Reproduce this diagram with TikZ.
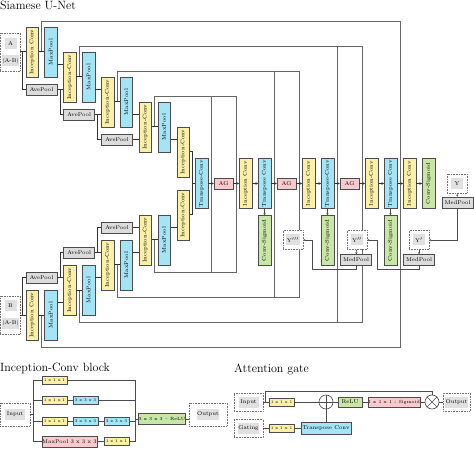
\documentclass[tikz,border=0pt]{standalone}
\usetikzlibrary{arrows.meta}
\pgfdeclarelayer{bg}
\pgfsetlayers{bg,main}
\definecolor{icyel}{HTML}{FCF0A8}
\definecolor{mpcyan}{HTML}{A3E4F6}
\definecolor{csgreen}{HTML}{C8E6A6}
\definecolor{agpink}{HTML}{F8CACD}
\definecolor{poolgray}{HTML}{DCDCDC}
\newcommand{\vtxt}[1]{\rotatebox{90}{#1}}
\begin{document}
\begin{tikzpicture}[x=1pt, y=-1pt,
        box/.style={draw=black!70, line width=0.5pt, inner sep=0pt, font=\fontsize{5.5}{6}\selectfont},
        icbox/.style={box, fill=icyel, minimum width=12.5pt, minimum height=50pt},
        mpbox/.style={box, fill=mpcyan, minimum width=12.5pt, minimum height=50pt},
        csbox/.style={box, fill=csgreen, minimum width=12.5pt, minimum height=50pt},
        poolbox/.style={box, fill=poolgray, minimum width=31pt, minimum height=11pt},
        agbox/.style={box, fill=agpink, minimum width=19pt, minimum height=11pt},
        sbox/.style={box, minimum width=25pt, minimum height=8pt, font=\fontsize{4}{5}\selectfont},
        inbox/.style={draw=black!55, densely dotted, line width=0.6pt, fill=white, inner sep=0pt},
        tag/.style={fill=black!12, inner sep=0.5pt, minimum width=12pt, minimum height=11pt, font=\fontsize{5.5}{6}\selectfont},
        title/.style={anchor=base west, inner sep=0pt, font=\fontsize{12}{14}\selectfont},
        gate/.style={circle, draw=black!70, line width=0.6pt, fill=white, minimum size=14pt, inner sep=0pt},
        skipline/.style={draw=black!60, line width=0.7pt},
        conn/.style={draw=black!80, line width=1pt},
        flow/.style={conn, -{Stealth[length=2.5pt, width=2.5pt]}},
        pline/.style={draw=black!70, line width=0.6pt}
    ]
    \useasboundingbox (0,0) rectangle (474,449);

    % Titles
    \node[title] (ttlnet) at (0,9.5) {Siamese U-Net};
    \node[title] (ttlinc) at (0,371) {Inception-Conv block};
    \node[title] (ttlag) at (234,372) {Attention gate};

    % Branch A (encoder)
    \node[inbox, minimum width=20pt, minimum height=38pt] (inA) at (10,52) {};
    \node[tag] (tagA) at (10.5,43.5) {A};
    \node[tag] (tagAB) at (10.5,61) {$|$A-B$|$};
    \node[icbox] (icA1) at (32,52) {\vtxt{Inception Conv}};
    \node[mpbox] (mpA1) at (50.75,52) {\vtxt{MaxPool}};
    \node[poolbox] (apA1) at (41.4,89.5) {AvePool};
    \node[icbox] (icA2) at (69.75,77) {\vtxt{Inception-Conv}};
    \node[mpbox] (mpA2) at (88.5,77) {\vtxt{MaxPool}};
    \node[poolbox] (apA2) at (79.1,114.5) {AvePool};
    \node[icbox] (icA3) at (107.5,102) {\vtxt{Inception-Conv}};
    \node[mpbox] (mpA3) at (126.25,102) {\vtxt{MaxPool}};
    \node[poolbox] (apA3) at (116.9,139.5) {AvePool};
    \node[icbox] (icA4) at (145.25,127) {\vtxt{Inception-Conv}};
    \node[mpbox] (mpA4) at (164,127) {\vtxt{MaxPool}};
    \node[icbox] (icA5) at (183,152) {\vtxt{Inception-Conv}};

    % Branch B (encoder)
    \node[inbox, minimum width=20pt, minimum height=38pt] (inB) at (10,315) {};
    \node[tag] (tagB) at (10.5,305.5) {B};
    \node[tag] (tagBA) at (10.5,323.5) {$|$A-B$|$};
    \node[icbox] (icB1) at (32,315) {\vtxt{Inception Conv}};
    \node[mpbox] (mpB1) at (50.75,315) {\vtxt{MaxPool}};
    \node[poolbox] (apB1) at (41.4,277.5) {AvePool};
    \node[icbox] (icB2) at (69.75,290) {\vtxt{Inception-Conv}};
    \node[mpbox] (mpB2) at (88.5,290) {\vtxt{MaxPool}};
    \node[poolbox] (apB2) at (79.1,252.5) {AvePool};
    \node[icbox] (icB3) at (107.5,265) {\vtxt{Inception-Conv}};
    \node[mpbox] (mpB3) at (126.25,265) {\vtxt{MaxPool}};
    \node[poolbox] (apB3) at (116.9,227.5) {AvePool};
    \node[icbox] (icB4) at (145.25,240) {\vtxt{Inception-Conv}};
    \node[mpbox] (mpB4) at (164,240) {\vtxt{MaxPool}};
    \node[icbox] (icB5) at (183,215) {\vtxt{Inception-Conv}};

    % Decoder
    \node[mpbox] (tc1) at (201.5,183.5) {\vtxt{Transpose-Conv}};
    \node[agbox] (ag1) at (223.5,183.5) {AG};
    \node[icbox] (icd1) at (245.5,183.5) {\vtxt{Inception Conv}};
    \node[mpbox] (tc2) at (264.5,183.5) {\vtxt{Transpose Conv}};
    \node[agbox] (ag2) at (286.5,183.5) {AG};
    \node[icbox] (icd2) at (308.5,183.5) {\vtxt{Inception Conv}};
    \node[mpbox] (tc3) at (327.5,183.5) {\vtxt{Transpose-Conv}};
    \node[agbox] (ag3) at (349.5,183.5) {AG};
    \node[icbox] (icd3) at (371.5,183.5) {\vtxt{Inception-Conv}};
    \node[mpbox] (tc4) at (390.5,183.5) {\vtxt{Transpose Conv}};
    \node[icbox] (icd4) at (409.5,183.5) {\vtxt{Inception Conv}};
    \node[csbox] (csF) at (428.5,183.5) {\vtxt{Conv-Sigmoid}};
    \node[csbox] (cs2) at (264.5,240.5) {\vtxt{Conv-Sigmoid}};
    \node[csbox] (cs3) at (327.5,240.5) {\vtxt{Conv-Sigmoid}};
    \node[csbox] (cs4) at (390.5,240.5) {\vtxt{Conv-Sigmoid}};

    % Concatenation points
    \coordinate (ca4) at (211,183.5);
    \coordinate (cb4) at (236,183.5);
    \coordinate (ca3) at (274,183.5);
    \coordinate (cb3) at (299,183.5);
    \coordinate (ca2) at (337,183.5);
    \coordinate (cb2) at (362,183.5);
    \coordinate (cb1) at (400,183.5);

    % Labels and median pooling
    \node[inbox, minimum width=20pt, minimum height=19pt] (yF) at (457,183.5) {};
    \node[tag] (tagY) at (457,183.5) {Y};
    \node[poolbox] (mdF) at (457.5,202.5) {MedPool};
    \node[inbox, minimum width=20pt, minimum height=19pt] (y1) at (419,240) {};
    \node[tag] (tagY1) at (419,240) {Y$'$};
    \node[poolbox] (md1) at (419,260) {MedPool};
    \node[inbox, minimum width=20pt, minimum height=19pt] (y2) at (357,240) {};
    \node[tag] (tagY2) at (357,240) {Y$''$};
    \node[poolbox] (md2) at (356,260) {MedPool};
    \node[inbox, minimum width=20pt, minimum height=19pt] (y3) at (293,240) {};
    \node[tag] (tagY3) at (293,240) {Y$'''$};

    \begin{pgfonlayer}{bg}
    % Skip connections
    \draw[skipline] ([xshift=3pt]icA1.east) |- (cb1 |- 0,21) -- (cb1);
    \draw[skipline] ([xshift=3pt]icA2.east) |- (cb2 |- 0,46) -- (cb2);
    \draw[skipline] (ca2 |- 0,46) -- (ca2);
    \draw[skipline] ([xshift=3pt]icA3.east) |- (cb3 |- 0,71) -- (cb3);
    \draw[skipline] (ca3 |- 0,71) -- (ca3);
    \draw[skipline] ([xshift=3pt]icA4.east) |- (cb4 |- 0,96) -- (cb4);
    \draw[skipline] (ca4 |- 0,96) -- (ca4);
    \draw[skipline] ([xshift=3pt]icB1.east) |- (cb1 |- 0,347) -- (cb1);
    \draw[skipline] ([xshift=3pt]icB2.east) |- (cb2 |- 0,322) -- (cb2);
    \draw[skipline] (ca2 |- 0,322) -- (ca2);
    \draw[skipline] ([xshift=3pt]icB3.east) |- (cb3 |- 0,297) -- (cb3);
    \draw[skipline] (ca3 |- 0,297) -- (ca3);
    \draw[skipline] ([xshift=3pt]icB4.east) |- (cb4 |- 0,272) -- (cb4);
    \draw[skipline] (ca4 |- 0,272) -- (ca4);
    \end{pgfonlayer}

    % Encoder links
    \draw[conn] (inA.east) -- (icA1.west);
    \draw[conn] ([xshift=2.5pt]inA.east) |- (apA1.west);
    \draw[conn] (icA1) -- (mpA1);
    \draw[conn] (mpA1.east |- 0,64.5) -- (icA2.west |- 0,64.5);
    \draw[conn] (apA1.east) -- (apA1.east -| icA2.west);
    \draw[conn] ([xshift=3pt]apA1.east) |- (apA2.west);
    \draw[conn] (icA2) -- (mpA2);
    \draw[conn] (mpA2.east |- 0,89.5) -- (icA3.west |- 0,89.5);
    \draw[conn] (apA2.east) -- (apA2.east -| icA3.west);
    \draw[conn] ([xshift=3pt]apA2.east) |- (apA3.west);
    \draw[conn] (icA3) -- (mpA3);
    \draw[conn] (mpA3.east |- 0,114.5) -- (icA4.west |- 0,114.5);
    \draw[conn] (apA3.east) -- (apA3.east -| icA4.west);
    \draw[conn] (icA4) -- (mpA4);
    \draw[conn] (mpA4.east |- 0,139.5) -- (icA5.west |- 0,139.5);

    \draw[conn] (inB.east) -- (icB1.west);
    \draw[conn] ([xshift=2.5pt]inB.east) |- (apB1.west);
    \draw[conn] (icB1) -- (mpB1);
    \draw[conn] (mpB1.east |- 0,302.5) -- (icB2.west |- 0,302.5);
    \draw[conn] (apB1.east) -- (apB1.east -| icB2.west);
    \draw[conn] ([xshift=3pt]apB1.east) |- (apB2.west);
    \draw[conn] (icB2) -- (mpB2);
    \draw[conn] (mpB2.east |- 0,277.5) -- (icB3.west |- 0,277.5);
    \draw[conn] (apB2.east) -- (apB2.east -| icB3.west);
    \draw[conn] ([xshift=3pt]apB2.east) |- (apB3.west);
    \draw[conn] (icB3) -- (mpB3);
    \draw[conn] (mpB3.east |- 0,252.5) -- (icB4.west |- 0,252.5);
    \draw[conn] (apB3.east) -- (apB3.east -| icB4.west);
    \draw[conn] (icB4) -- (mpB4);
    \draw[conn] (mpB4.east |- 0,227.5) -- (icB5.west |- 0,227.5);

    % Decoder links
    \draw[conn] (icA5.east) -- ++(3,0) |- (tc1.west);
    \draw[conn] (icB5.east) -- ++(3,0) |- (tc1.west);
    \draw[flow] (tc1) -- (ag1);
    \draw[flow] (ag1) -- (icd1);
    \draw[flow] (icd1) -- (tc2);
    \draw[flow] (tc2) -- (ag2);
    \draw[flow] (ag2) -- (icd2);
    \draw[flow] (icd2) -- (tc3);
    \draw[flow] (tc3) -- (ag3);
    \draw[flow] (ag3) -- (icd3);
    \draw[flow] (icd3) -- (tc4);
    \draw[flow] (tc4) -- (icd4);
    \draw[flow] (icd4) -- (csF);
    \draw[pline, -{Stealth[length=2pt, width=2pt]}] (tc2) -- (cs2);
    \draw[pline, -{Stealth[length=2pt, width=2pt]}] (tc3) -- (cs3);
    \draw[pline, -{Stealth[length=2pt, width=2pt]}] (tc4) -- (cs4);

    % Median pooling links
    \draw[pline, -{Stealth[length=2pt, width=2pt]}] (yF) -- (mdF);
    \draw[pline, -{Stealth[length=2pt, width=2pt]}] (y1) -- (md1);
    \draw[pline, -{Stealth[length=2pt, width=2pt]}] (y2) -- (md2);
    \draw[pline, -{Stealth[length=2pt, width=2pt]}] (mdF.south) |- (y1.east);
    \draw[pline, -{Stealth[length=2pt, width=2pt]}] (md1.south) |- (377,269) |- (y2.east);
    \draw[pline, -{Stealth[length=2pt, width=2pt]}] (md2.south) |- (312,269) |- (y3.east);

    % Inception-Conv block
    \node[inbox, minimum width=30pt, minimum height=23pt] (inI) at (15,414.5) {};
    \node[tag, minimum width=20pt] (tagInI) at (15,414.5) {Input};
    \node[sbox, fill=icyel] (k11) at (54.5,380) {1 x 1 x 1};
    \node[sbox, fill=icyel] (k21) at (54.5,400.5) {1 x 1 x 1};
    \node[sbox, fill=mpcyan] (k22) at (85.5,400.5) {3 x 3 x 3};
    \node[sbox, fill=icyel] (k31) at (54.5,421) {1 x 1 x 1};
    \node[sbox, fill=mpcyan] (k32) at (85.5,421) {3 x 3 x 3};
    \node[sbox, fill=mpcyan] (k33) at (116.5,421) {3 x 3 x 3};
    \node[box, fill=agpink, minimum width=55pt, minimum height=11pt] (k41) at (69.5,441.5) {MaxPool 3 x 3 x 3};
    \node[sbox, fill=icyel] (k42) at (116.5,441.5) {1 x 1 x 1};
    \node[box, fill=csgreen, minimum width=40pt, minimum height=11pt, font=\fontsize{4.5}{5}\selectfont] (krelu) at (162,419) {3 x 3 x 3 -- ReLU};
    \node[inbox, minimum width=38pt, minimum height=23pt] (outI) at (208,414.5) {};
    \node[tag, minimum width=22pt] (tagOutI) at (208,414.5) {Output};
    \coordinate (bl1) at (33,380);
    \coordinate (bl4) at (33,441.5);
    \coordinate (br1) at (135,380);
    \coordinate (br4) at (135,441.5);
    \draw[pline] (bl1) -- (bl4);
    \draw[pline] (br1) -- (br4);
    \draw[pline] (inI.east) -- (inI.east -| bl1);
    \draw[pline] (bl1) -- (k11.west);
    \draw[pline] (k11.east) -- (br1);
    \draw[pline] (k21.west -| bl1) -- (k21) -- (k22) -- (k22.east -| br1);
    \draw[pline] (k31.west -| bl1) -- (k31) -- (k32) -- (k33) -- (k33.east -| br1);
    \draw[pline] (bl4) -- (k41) -- (k42) -- (br4);
    \draw[pline] (krelu.west -| br1) -- (krelu) -- (krelu.east -| outI.west);

    % Attention gate
    \node[inbox, minimum width=29pt, minimum height=18pt] (inG) at (248.5,402) {};
    \node[tag, minimum width=20pt] (tagInG) at (248.5,402) {Input};
    \node[inbox, minimum width=29pt, minimum height=18pt] (gaG) at (248.5,428.5) {};
    \node[tag, minimum width=20pt] (tagGaG) at (248.5,428.5) {Gating};
    \node[sbox, fill=icyel] (g1) at (281.5,402) {1 x 1 x 1};
    \node[sbox, fill=icyel] (g2) at (281.5,428.5) {1 x 1 x 1};
    \node[box, fill=mpcyan, minimum width=50pt, minimum height=12pt] (gtc) at (326,428.5) {Transpose Conv};
    \node[gate] (gadd) at (326,402) {};
    \draw[pline] (gadd.north) -- (gadd.south) (gadd.west) -- (gadd.east);
    \node[box, fill=csgreen, minimum width=24pt, minimum height=10pt] (grelu) at (350,402) {ReLU};
    \node[box, fill=agpink, minimum width=50pt, minimum height=10pt, font=\fontsize{4.5}{5}\selectfont] (gsig) at (394,402) {1 x 1 x 1 - Sigmoid};
    \node[gate] (gmul) at (432,402) {};
    \draw[pline] (gmul.north west) -- (gmul.south east) (gmul.north east) -- (gmul.south west);
    \node[inbox, minimum width=27pt, minimum height=18pt] (outG) at (456.5,402) {};
    \node[tag, minimum width=20pt] (tagOutG) at (456.5,402) {Output};
    \coordinate (gj) at (265.5,402);
    \draw[pline] (inG) -- (g1) -- (gadd) -- (grelu) -- (gsig) -- (gmul) -- (outG);
    \draw[pline] (gaG) -- (g2) -- (gtc);
    \draw[pline] (gtc) -- (gadd);
    \draw[pline] (gj) |- (gmul |- 0,391) -- (gmul.north);

\end{tikzpicture}
\end{document}
